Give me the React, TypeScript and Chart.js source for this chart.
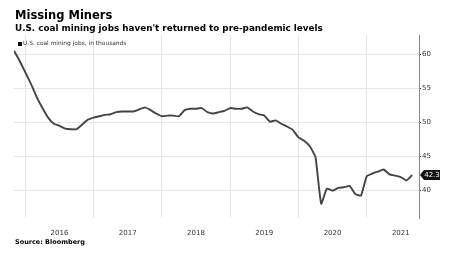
import React, { useEffect, useRef } from "react";
import { Chart, registerables } from "chart.js";

Chart.register(...registerables);

// Monthly U.S. coal mining jobs (thousands), starting Nov 2015
const firstMonthOffset = -2; // Nov 2015 relative to Jan 2016
const jobs = [
  60.5, 59.0, 57.3, 55.6, 53.7, 52.1, 50.7, 49.8, 49.5, 49.1,
  49.0, 49.0, 49.7, 50.4, 50.7, 50.9, 51.1, 51.2, 51.5, 51.6,
  51.6, 51.6, 51.9, 52.2, 51.8, 51.3, 50.9, 51.0, 51.0, 50.9,
  51.8, 52.0, 52.0, 52.1, 51.5, 51.3, 51.5, 51.7, 52.1, 52.0,
  52.0, 52.2, 51.6, 51.2, 51.0, 50.1, 50.3, 49.8, 49.4, 48.9,
  47.8, 47.3, 46.5, 44.9, 38.1, 40.3, 40.0, 40.4, 40.5, 40.7,
  39.5, 39.3, 42.1, 42.5, 42.8, 43.1, 42.4, 42.2, 42.0, 41.5,
  42.3,
];
const years = ["2016", "2017", "2018", "2019", "2020", "2021"];
const yTicks = [40, 45, 50, 55, 60];
const seriesLabel = "U.S. coal mining jobs, in thousands";
const titleText = "Missing Miners";
const subtitleText = "U.S. coal mining jobs haven't returned to pre-pandemic levels";
const sourceText = "Source: Bloomberg";

const lastValuePlugin = {
  id: "lastValue",
  afterDatasetsDraw(chart: any) {
    const meta = chart.getDatasetMeta(0);
    const pts = meta.data;
    if (!pts.length) return;
    const p = pts[pts.length - 1];
    const val = jobs[jobs.length - 1];
    const ctx = chart.ctx;
    const x0 = chart.chartArea.right + 1;
    const y = p.y;
    const w = 20;
    const h = 10;
    ctx.save();
    ctx.fillStyle = "#111";
    ctx.beginPath();
    ctx.moveTo(x0, y);
    ctx.lineTo(x0 + 4, y - h / 2);
    ctx.lineTo(x0 + w, y - h / 2);
    ctx.lineTo(x0 + w, y + h / 2);
    ctx.lineTo(x0 + 4, y + h / 2);
    ctx.closePath();
    ctx.fill();
    ctx.fillStyle = "#fff";
    ctx.font = "7px 'DejaVu Sans'";
    ctx.textAlign = "center";
    ctx.textBaseline = "middle";
    ctx.fillText(val.toFixed(1), x0 + 4 + (w - 4) / 2, y + 0.5);
    ctx.restore();
  },
};

export default function App() {
  const canvasRef = useRef<HTMLCanvasElement | null>(null);

  useEffect(() => {
    if (!canvasRef.current) return;
    const points = jobs.map((v, i) => ({ x: i + firstMonthOffset, y: v }));
    const chart = new Chart(canvasRef.current, {
      type: "line",
      data: {
        datasets: [
          {
            label: seriesLabel,
            data: points,
            borderColor: "#444",
            borderWidth: 1.9,
            pointRadius: 0,
            tension: 0.15,
            fill: false,
          },
        ],
      },
      plugins: [lastValuePlugin],
      options: {
        animation: false,
        responsive: true,
        maintainAspectRatio: false,
        layout: { padding: { left: 14, top: 35, right: 0, bottom: 16 } },
        plugins: {
          legend: { display: false },
          tooltip: { enabled: false },
        },
        scales: {
          x: {
            type: "linear",
            min: firstMonthOffset,
            max: 69.2,
            afterBuildTicks(scale: any) {
              const t: any[] = [];
              years.forEach((_, i) => {
                t.push({ value: i * 12 });
                t.push({ value: i * 12 + 6 });
              });
              scale.ticks = t;
            },
            afterFit(scale: any) {
              scale.height = 22;
            },
            grid: {
              color: (ctx: any) =>
                ctx.tick && ctx.tick.value % 12 === 0 ? "#e6e6e6" : "rgba(0,0,0,0)",
              drawTicks: false,
            },
            border: { display: false },
            ticks: {
              autoSkip: false,
              maxRotation: 0,
              padding: 11,
              color: "#333",
              font: { size: 7, family: "'DejaVu Sans'" },
              callback: (value: any) =>
                value % 12 === 6 ? years[Math.floor(value / 12)] : "",
            },
          },
          y: {
            position: "right",
            min: 36,
            max: 62.8,
            afterBuildTicks(scale: any) {
              scale.ticks = yTicks.map((v) => ({ value: v }));
            },
            afterFit(scale: any) {
              scale.width = 31;
            },
            grid: {
              color: "#e6e6e6",
              drawTicks: true,
              tickLength: 2,
              tickColor: "#222",
            },
            border: { display: true, color: "#888", width: 1 },
            ticks: {
              padding: 1,
              color: "#333",
              font: { size: 7, family: "'DejaVu Sans'" },
            },
          },
        },
      },
    });
    return () => chart.destroy();
  }, []);

  return (
    <div
      style={{
        position: "fixed",
        left: 0,
        top: 0,
        width: 450,
        height: 256,
        background: "#fff",
        fontFamily: "'DejaVu Sans', sans-serif",
      }}
    >
      <div style={{ position: "absolute", left: 0, top: 0, width: 450, height: 256 }}>
        <canvas ref={canvasRef} />
      </div>
      <div
        style={{
          position: "absolute",
          left: 15,
          top: 8,
          fontSize: 11.5,
          fontWeight: "bold",
          color: "#000",
          lineHeight: "14px",
          whiteSpace: "nowrap",
        }}
      >
        {titleText}
      </div>
      <div
        style={{
          position: "absolute",
          left: 15,
          top: 23,
          fontSize: 8.8,
          fontWeight: "bold",
          color: "#000",
          lineHeight: "11px",
          whiteSpace: "nowrap",
        }}
      >
        {subtitleText}
      </div>
      <div
        style={{
          position: "absolute",
          left: 18,
          top: 40,
          fontSize: 5.9,
          color: "#333",
          lineHeight: "7px",
          whiteSpace: "nowrap",
          display: "flex",
          alignItems: "center",
        }}
      >
        <span
          style={{
            display: "inline-block",
            width: 4,
            height: 4,
            background: "#111",
            marginRight: 1,
          }}
        />
        {seriesLabel}
      </div>
      <div
        style={{
          position: "absolute",
          left: 15,
          top: 238,
          fontSize: 6.5,
          fontWeight: "bold",
          color: "#000",
          lineHeight: "9px",
          whiteSpace: "nowrap",
        }}
      >
        {sourceText}
      </div>
    </div>
  );
}
